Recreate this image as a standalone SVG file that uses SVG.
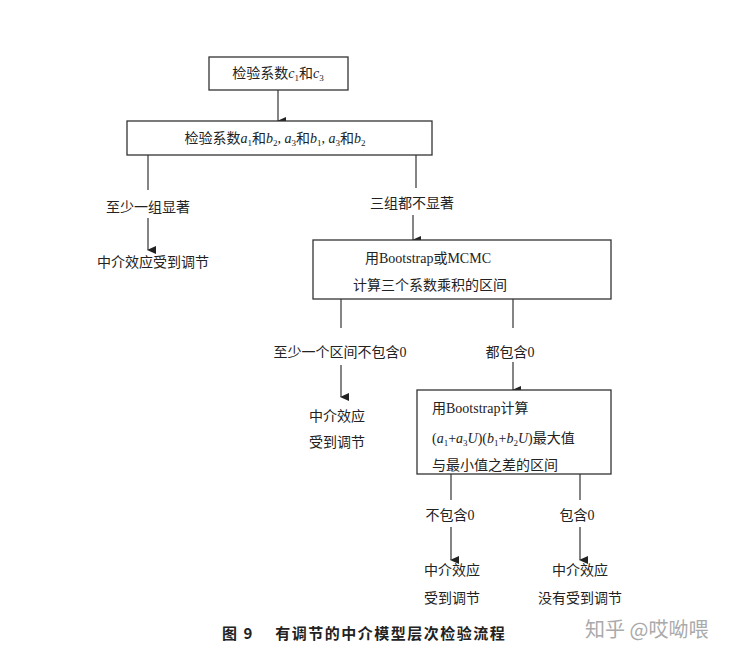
<svg xmlns="http://www.w3.org/2000/svg" width="736" height="659" viewBox="0 0 736 659">
<style>
text{font-family:"Liberation Serif","Noto Sans CJK SC",serif;font-size:14px;fill:#222}
.box{fill:#fff;stroke:#333;stroke-width:1.3}
.ln{stroke:#333;stroke-width:1.2;fill:none}
.c{text-anchor:middle}
</style>
<defs><marker id="a" markerWidth="8" markerHeight="9" refX="4" refY="8" orient="auto" markerUnits="userSpaceOnUse"><path d="M0,0 L8,0 L4,9Z" fill="#222"/></marker></defs>
<rect width="736" height="659" fill="#fff"/>
<g id="connectors">
<path class="ln" d="M278,90 V121" marker-end="url(#a)"/>
<path class="ln" d="M148,155 V190"/><path class="ln" d="M148,218 V250" marker-end="url(#a)"/>
<path class="ln" d="M416,155 V188"/><path class="ln" d="M413,215 V240" marker-end="url(#a)"/>
<path class="ln" d="M341,299 V328"/><path class="ln" d="M341,365 V397" marker-end="url(#a)"/>
<path class="ln" d="M513,299 V328"/><path class="ln" d="M513,362 V390" marker-end="url(#a)"/>
<path class="ln" d="M451,474 V500"/><path class="ln" d="M451,527 V560" marker-end="url(#a)"/>
<path class="ln" d="M580,474 V500"/><path class="ln" d="M580,527 V560" marker-end="url(#a)"/>
</g>
<g id="n1"><rect class="box" x="209" y="57" width="139" height="33"/><text x="278" y="78" class="c">检验系数<tspan font-style="italic">c</tspan><tspan font-size="9" dy="3">1</tspan><tspan dy="-3">和</tspan><tspan font-style="italic">c</tspan><tspan font-size="9" dy="3">3</tspan></text></g>
<g id="n2"><rect class="box" x="127" y="121" width="305" height="34"/><text x="275" y="143" class="c">检验系数<tspan font-style="italic">a</tspan><tspan font-size="9" dy="3">1</tspan><tspan dy="-3">和</tspan><tspan font-style="italic">b</tspan><tspan font-size="9" dy="3">2</tspan><tspan dy="-3">, </tspan><tspan font-style="italic">a</tspan><tspan font-size="9" dy="3">3</tspan><tspan dy="-3">和</tspan><tspan font-style="italic">b</tspan><tspan font-size="9" dy="3">1</tspan><tspan dy="-3">, </tspan><tspan font-style="italic">a</tspan><tspan font-size="9" dy="3">3</tspan><tspan dy="-3">和</tspan><tspan font-style="italic">b</tspan><tspan font-size="9" dy="3">2</tspan></text></g>
<g id="l1"><text x="148" y="212" class="c">至少一组显著</text></g>
<g id="r1"><text x="153" y="267" class="c">中介效应受到调节</text></g>
<g id="l2"><text x="412" y="208" class="c">三组都不显著</text></g>
<g id="n3"><rect class="box" x="313" y="240" width="298" height="59"/><text x="428" y="263" class="c">用Bootstrap或MCMC</text><text x="430" y="290" class="c">计算三个系数乘积的区间</text></g>
<g id="l3"><text x="340" y="357" class="c">至少一个区间不包含0</text></g>
<g id="r2"><text x="337" y="421" class="c">中介效应</text><text x="337" y="447" class="c">受到调节</text></g>
<g id="l4"><text x="510" y="357" class="c">都包含0</text></g>
<g id="n4"><rect class="box" x="417" y="390" width="194" height="84"/><text x="432" y="413">用Bootstrap计算</text><text x="432" y="443">(<tspan font-style="italic">a</tspan><tspan font-size="9" dy="3">1</tspan><tspan dy="-3">+</tspan><tspan font-style="italic">a</tspan><tspan font-size="9" dy="3">3</tspan><tspan dy="-3" font-style="italic">U</tspan>)(<tspan font-style="italic">b</tspan><tspan font-size="9" dy="3">1</tspan><tspan dy="-3">+</tspan><tspan font-style="italic">b</tspan><tspan font-size="9" dy="3">2</tspan><tspan dy="-3" font-style="italic">U</tspan>)最大值</text><text x="432" y="470">与最小值之差的区间</text></g>
<g id="l5"><text x="450" y="520" class="c">不包含0</text></g>
<g id="r3"><text x="452" y="575" class="c">中介效应</text><text x="452" y="603" class="c">受到调节</text></g>
<g id="l6"><text x="577" y="520" class="c">包含0</text></g>
<g id="r4"><text x="580" y="575" class="c">中介效应</text><text x="580" y="603" class="c">没有受到调节</text></g>
<text x="222" y="639" style="font-family:'Noto Sans CJK SC',sans-serif;font-weight:bold;font-size:15px;letter-spacing:1.5px">图 9　 有调节的中介模型层次检验流程</text>
<text x="585" y="637" style="font-family:'Noto Sans CJK SC',sans-serif;font-size:20px;fill:#aaa">知乎 @哎呦喂</text>
</svg>
